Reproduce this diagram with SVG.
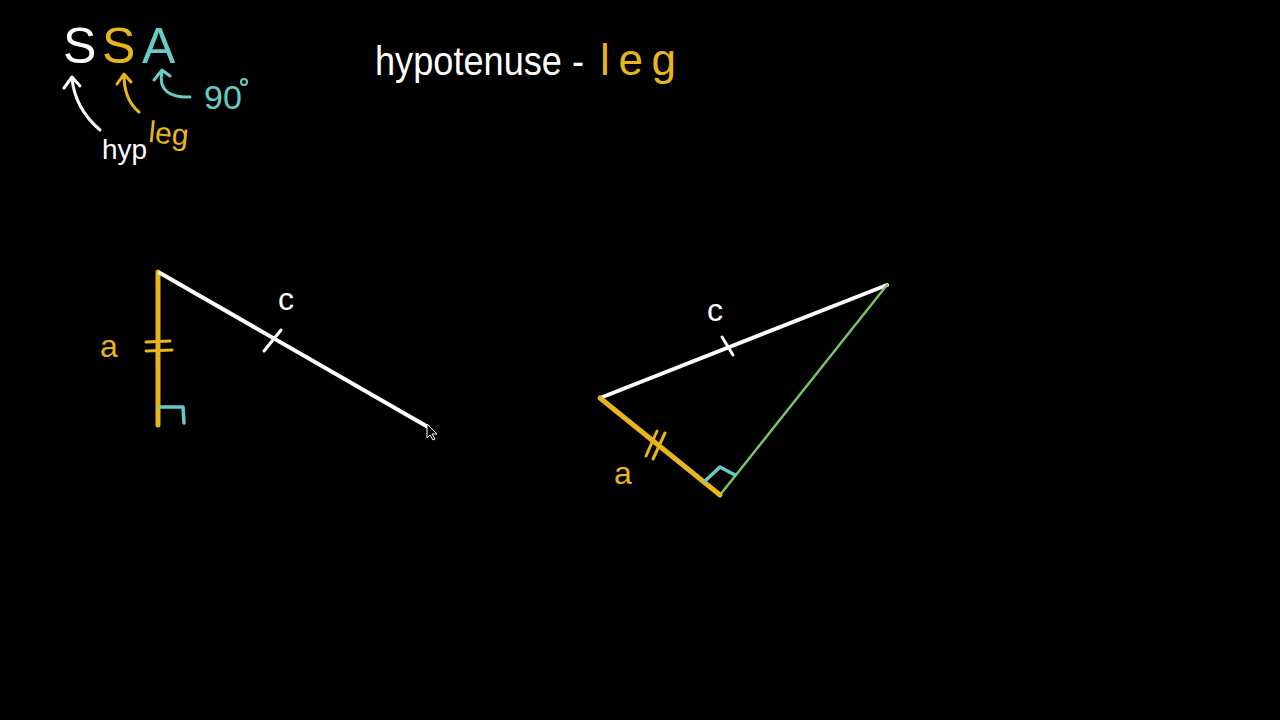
<svg xmlns="http://www.w3.org/2000/svg" width="1280" height="720" viewBox="0 0 1280 720">
<defs>
<style>
.w{stroke:#ffffff;fill:none;stroke-linecap:round;stroke-linejoin:round}
.y{stroke:#e8b61c;fill:none;stroke-linecap:round;stroke-linejoin:round}
.t{stroke:#66cdc6;fill:none;stroke-linecap:round;stroke-linejoin:round}
.g{stroke:#79c26a;fill:none;stroke-linecap:round}
text{font-family:"Liberation Sans",Arial,sans-serif}
.tw{fill:#ffffff}.ty{fill:#e8b61c}.tt{fill:#66cdc6}
</style>
</defs>
<rect width="1280" height="720" fill="#000000"/>
<g id="ssa">
<text x="63" y="63" font-size="50" class="tw">S</text>
<text x="102" y="63" font-size="50" class="ty">S</text>
<text x="142" y="63" font-size="50" class="tt">A</text>
<path class="w" stroke-width="3" d="M100,130 C86,118 74,100 72,78 M64,88 L72,77 L80,86"/>
<path class="y" stroke-width="3" d="M139,112 C128,103 124,90 124,75 M117,84 L124,74 L131,82"/>
<path class="t" stroke-width="3" d="M190,97 C170,98 158,90 162,72 M154,80 L162,70 L170,76"/>
<text x="204" y="109" font-size="34" class="tt">90</text>
<circle cx="244" cy="82" r="3" class="t" stroke-width="2"/>
<text x="148" y="144" font-size="30" class="ty" transform="rotate(6 170 140)">leg</text>
<text x="102" y="159" font-size="28" class="tw">hyp</text>
</g>
<g id="title">
<text x="375" y="75" font-size="40" class="tw" textLength="209" lengthAdjust="spacingAndGlyphs">hypotenuse -</text>
<text x="600" y="75" font-size="44" class="ty" textLength="76" lengthAdjust="spacing">leg</text>
</g>
<g id="triangle-left">
<line x1="158" y1="272" x2="158" y2="425" class="y" stroke-width="5"/>
<line x1="160" y1="273" x2="428" y2="427" class="w" stroke-width="4"/>
<line x1="264" y1="351" x2="281" y2="330" class="w" stroke-width="3"/>
<text x="278" y="310" font-size="32" class="tw">c</text>
<text x="100" y="357" font-size="32" class="ty">a</text>
<line x1="146" y1="342" x2="170" y2="341" class="y" stroke-width="3"/>
<line x1="146" y1="351" x2="172" y2="350" class="y" stroke-width="3"/>
<path class="t" stroke-width="3.5" d="M160,407 L183,407 L184,423"/>
<path d="M427,424 L427,438 L430,435 L433,440 L435,439 L432,434 L437,434 Z" fill="#000" stroke="#fff" stroke-width="1"/>
</g>
<g id="triangle-right">
<line x1="600" y1="398" x2="887" y2="285" class="w" stroke-width="4"/>
<line x1="720" y1="495" x2="887" y2="285" class="g" stroke-width="2.5"/>
<line x1="600" y1="398" x2="720" y2="495" class="y" stroke-width="5"/>
<line x1="722" y1="337" x2="733" y2="355" class="w" stroke-width="3"/>
<text x="707" y="321" font-size="32" class="tw">c</text>
<line x1="646" y1="456" x2="657" y2="431" class="y" stroke-width="3"/>
<line x1="653" y1="459" x2="665" y2="433" class="y" stroke-width="3"/>
<text x="614" y="484" font-size="32" class="ty">a</text>
<path class="t" stroke-width="3.5" d="M705,481 L720,467 L735,475"/>
</g>
</svg>
